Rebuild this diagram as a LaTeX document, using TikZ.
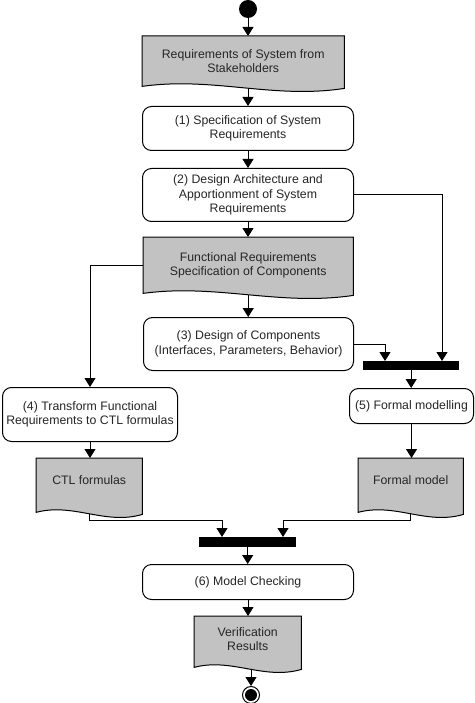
\documentclass[tikz,border=0pt]{standalone}
\usepackage{fontspec}
\setmainfont{Liberation Sans}
\usetikzlibrary{arrows.meta,calc}
\pgfdeclarelayer{bg}
\pgfdeclarelayer{shp}
\pgfsetlayers{bg,shp,main}
\newcommand\docshape[2]{%
  \begin{pgfonlayer}{shp}
  \path[docfill] (#1.north west) -- (#1.north east) -- ($(#1.south east)+(0,#2+2)$)
    .. controls ($(#1.south west)!0.65!(#1.south east)+(0,#2+13)$) and ($(#1.south west)!0.35!(#1.south east)+(0,#2-10)$)
    .. ($(#1.south west)+(0,#2)$) -- cycle;
  \draw[line width=1.5pt] (#1.north east) -- ($(#1.south east)+(0,#2+2)$);
  \end{pgfonlayer}}
\begin{document}
\begin{tikzpicture}[x=1pt,y=-1pt,
  every node/.style={font=\fontsize{12.3}{14.5}\selectfont, text=black!85},
  act/.style={draw, rounded corners=9pt, fill=white, line width=1pt, anchor=north west, inner sep=0pt, align=center},
  docnode/.style={anchor=north west, inner sep=0pt, align=center},
  docfill/.style={fill=black!24, draw=black, line width=1pt},
  bar/.style={fill=black, anchor=north west, inner sep=0pt},
  arr/.style={-{Triangle[width=11pt,length=9pt]}, line width=1pt},
  ln/.style={line width=1pt}]
\useasboundingbox (0,0) rectangle (474,703);

% start
\node[circle, fill=black, minimum size=18pt, inner sep=0pt] (start) at (248,9) {};

% documents
\node[docnode, minimum width=202pt, minimum height=50pt] (doc1) at (142,36) {Requirements of System from\\Stakeholders};
\docshape{doc1}{0}

\node[act, minimum width=211pt, minimum height=44pt] (box1) at (142,106) {(1) Specification of System\\Requirements};
\node[act, minimum width=211pt, minimum height=53pt] (box2) at (142,168) {(2) Design Architecture and\\Apportionment of System\\Requirements};

\node[docnode, minimum width=210pt, minimum height=56pt] (doc2) at (143,237) {Functional Requirements\\Specification of Components};
\docshape{doc2}{0}

\node[act, minimum width=210pt, minimum height=53pt] (box3) at (143,317) {(3) Design of Components\\(Interfaces, Parameters, Behavior)};
\node[act, minimum width=175pt, minimum height=54pt] (box4) at (2,387) {(4) Transform Functional\\Requirements to CTL formulas};
\node[act, minimum width=124pt, minimum height=35pt] (box5) at (349,388) {(5) Formal modelling};

\node[bar, minimum width=96pt, minimum height=9pt] (bar1) at (363,361) {};
\coordinate (j1a) at (385,361);
\coordinate (j1b) at (442,361);

\node[docnode, minimum width=106pt, minimum height=44pt] (ctl) at (36,458) {CTL formulas};
\docshape{ctl}{10}
\node[docnode, minimum width=105pt, minimum height=44pt] (fm) at (358,458) {Formal model};
\docshape{fm}{10}

\node[bar, minimum width=97pt, minimum height=10pt] (bar2) at (199,537) {};
\coordinate (j2a) at (222,537);
\coordinate (j2b) at (283,537);

\node[act, minimum width=211pt, minimum height=35pt] (box6) at (142,564) {(6) Model Checking};

\node[docnode, minimum width=107pt, minimum height=46pt] (ver) at (194,616) {Verification\\Results};
\docshape{ver}{5}

% end
\node[circle, draw=black, fill=white, line width=1pt, minimum size=17pt, inner sep=0pt] (end) at (251,695) {};
\fill[black] (end.center) circle (6pt);

% connectors
\begin{pgfonlayer}{bg}
\draw[arr] (start.south) -- (start.south |- doc1.north);
\draw[arr] (box1.north |- doc1.south) -- (box1.north);
\draw[arr] (box1.south) -- (box2.north);
\draw[arr] (box2.south) -- (box2.south |- doc2.north);
\draw[arr] (box2.east) -| (j1b);
\draw[arr] (doc2.south) -- (doc2.south |- box3.north);
\draw[arr] (doc2.west) -| (box4.north);
\draw[arr] (box3.east) -| (j1a);
\draw[arr] (bar1.south) -- (bar1.south |- box5.north);
\draw[arr] (box4.south) -- (box4.south |- ctl.north);
\draw[arr] (box5.south) -- (box5.south |- fm.north);
\draw[arr] (ctl.south) |- ($(j2a)+(0,-17)$) -- (j2a);
\draw[arr] (fm.south) |- ($(j2b)+(0,-17)$) -- (j2b);
\draw[arr] (bar2.south) -- (bar2.south |- box6.north);
\draw[arr] (box6.south) -- (box6.south |- ver.north);
\draw[arr] (ver.south -| end.north) -- (end.north);
\end{pgfonlayer}
\end{tikzpicture}
\end{document}
